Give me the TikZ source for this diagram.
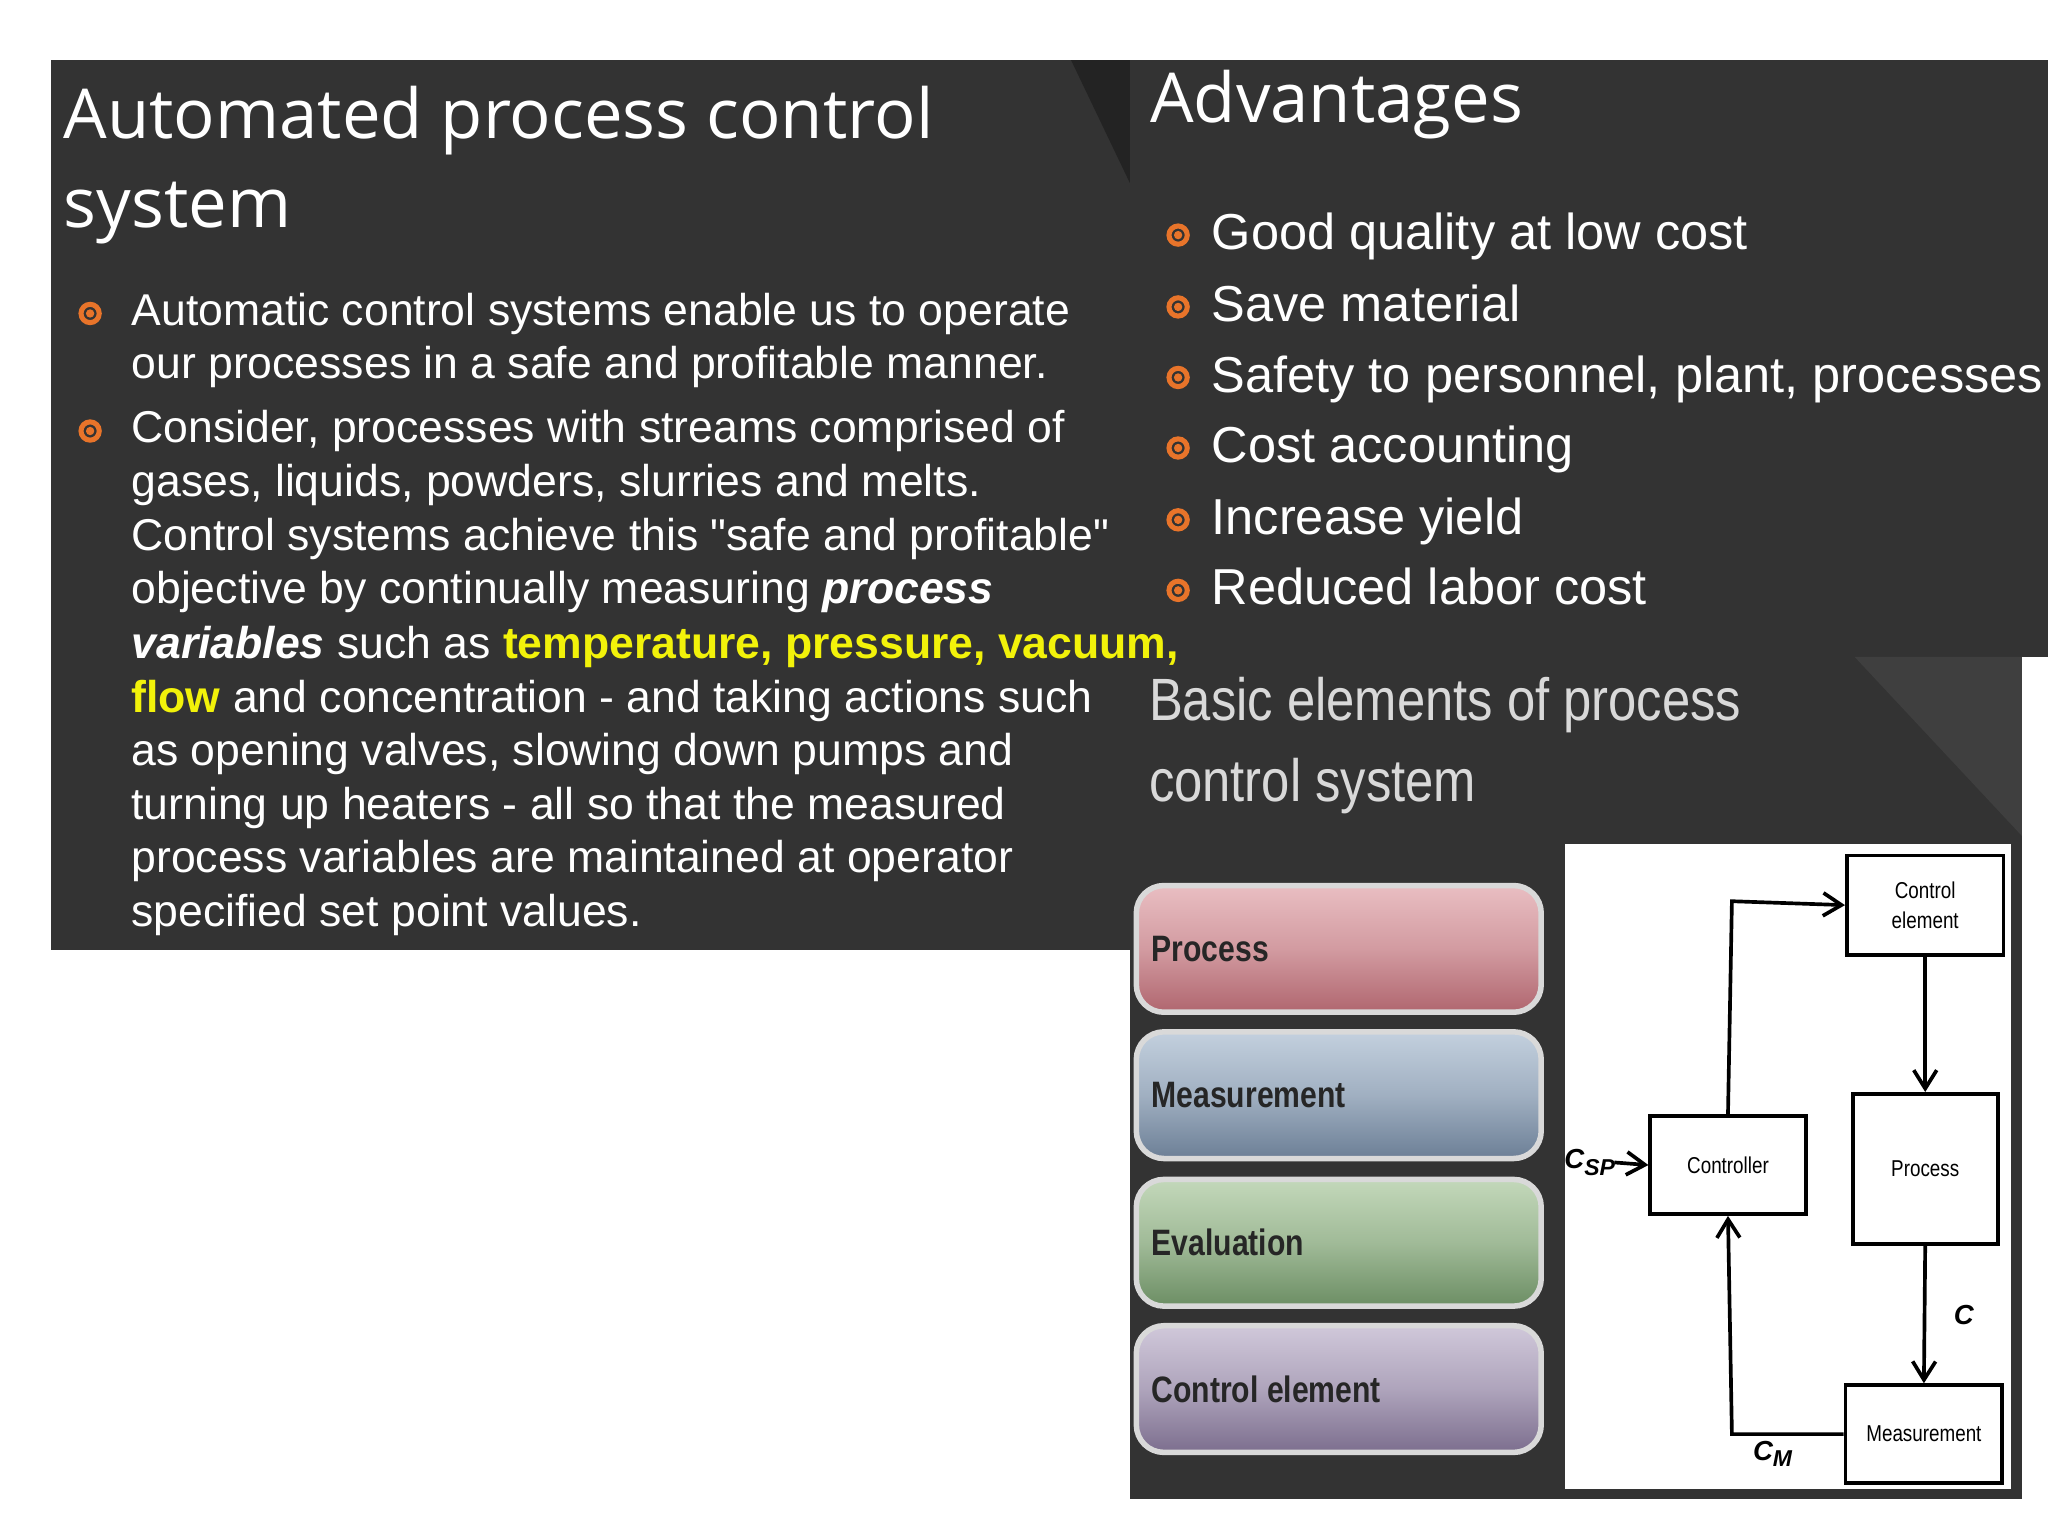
\documentclass[tikz,border=0pt]{standalone}
\usepackage{fontspec}
\setmainfont{Liberation Sans}
\newfontfamily\titlefont{Open Sans}
\usetikzlibrary{arrows.meta,positioning}
\definecolor{panel}{HTML}{333333}
\definecolor{bul}{HTML}{E8742A}
\definecolor{ylw}{HTML}{F2F20A}
\tikzset{
 ln/.style={anchor=west,text=white,inner sep=0pt,text height=1.6ex,text depth=.4ex,font=\fontsize{9.7pt}{12pt}\selectfont},
 adv/.style={ln,font=\fontsize{11pt}{13pt}\selectfont},
 ttl/.style={anchor=west,text=white,inner sep=0pt,font=\titlefont\fontsize{15pt}{18pt}\selectfont},
 btl/.style={anchor=west,text=white!85!black,inner sep=0pt,font=\fontsize{13pt}{16pt}\selectfont},
 gbox/.style={rounded corners=6pt,draw=white!85!black,line width=1.2pt},
 gtext/.style={anchor=west,inner sep=0pt,text=black!85,font=\bfseries\fontsize{8pt}{10pt}\selectfont},
 dbox/.style={draw=black,line width=0.8pt,inner sep=0pt,font=\fontsize{5pt}{6.6pt}\selectfont,align=center},
 arr/.style={-{Straight Barb[length=4pt,width=5pt]},line width=0.8pt},
 lbl/.style={inner sep=0pt,font=\itshape\bfseries\fontsize{6pt}{7pt}\selectfont}
}
\newcommand{\bulletmark}[2]{\draw[bul,line width=1.1pt] (#1,#2) circle (7); \fill[bul] (#1,#2) circle (3.2);}
\newcommand{\narrow}[1]{\scalebox{0.82}[1]{#1}}
\begin{document}
\begin{tikzpicture}[x=0.01cm,y=-0.01cm]
\useasboundingbox (0,0) rectangle (1568,1176);
\fill[white] (0,0) rectangle (1568,1176);
% panels
\fill[panel] (39,46) rectangle (865,727);
\fill[panel] (865,46) rectangle (1568,503);
\fill[panel] (865,503) rectangle (1548,1148);
\fill[black!60!panel,opacity=0.5] (820,46) -- (865,46) -- (865,140) -- cycle;
\fill[white!6!panel] (1420,503) -- (1548,503) -- (1548,640) -- cycle;
% left panel
\node[ttl] (t1) at (48,92) {Automated process control};
\node[ttl] (t2) at (48,163) {system};
\bulletmark{69}{240}
\bulletmark{69}{330}
\node[ln] (l1) at (100,238) {Automatic control systems enable us to operate};
\node[ln] (l2) at (100,279) {our processes in a safe and profitable manner.};
\node[ln] (l3) at (100,328) {Consider, processes with streams comprised of};
\node[ln] (l4) at (100,369) {gases, liquids, powders, slurries and melts.};
\node[ln] (l5) at (100,410) {Control systems achieve this \textquotedbl safe and profitable\textquotedbl};
\node[ln] (l6) at (100,451) {objective by continually measuring \textbf{\textit{process}}};
\node[ln] (l7) at (100,493) {\textbf{\textit{variables}} such as \textcolor{ylw}{\textbf{temperature, pressure, vacuum,}}};
\node[ln] (l8) at (100,534) {\textcolor{ylw}{\textbf{flow}} and concentration - and taking actions such};
\node[ln] (l9) at (100,575) {as opening valves, slowing down pumps and};
\node[ln] (l10) at (100,616) {turning up heaters - all so that the measured};
\node[ln] (l11) at (100,657) {process variables are maintained at operator};
\node[ln] (l12) at (100,698) {specified set point values.};
% advantages
\node[ttl] (t3) at (880,80) {Advantages};
\foreach \yy/\tx [count=\i] in {180/Good quality at low cost,235/Save material,289/{Safety to personnel, plant, processes},343/Cost accounting,398/Increase yield,452/Reduced labor cost}{
 \bulletmark{902}{\yy}
 \node[adv] (a\i) at (927,\yy) {\tx};
}
% basic elements
\node[btl] (t4) at (879,540) {\scalebox{0.85}[1]{Basic elements of process}};
\node[btl] (t5) at (879,602) {\scalebox{0.85}[1]{control system}};
\foreach \ya/\yb/\ct/\cb/\tx [count=\i] in {678/775/E9BEC2/B0666F/Process,790/887/C3D0DE/6C7F96/Measurement,903/1000/C3D8BA/6C8E64/Evaluation,1015/1112/D0C8DA/7C6E8E/Control element}{
 \definecolor{ctop}{HTML}{\ct}\definecolor{cbot}{HTML}{\cb}
 \shade[gbox,top color=ctop,bottom color=cbot,middle color=ctop!60!cbot] (870,\ya) rectangle (1180,\yb);
 \node[gtext] (g\i) at (881,{(\ya+\yb)/2}) {\narrow{\tx}};
}
% block diagram
\fill[white] (1198,646) rectangle (1540,1140);
\node[dbox,minimum width=1.2cm,minimum height=0.76cm] (ce) at (1474,693) {\narrow{Control}\\\narrow{element}};
\node[dbox,minimum width=1.11cm,minimum height=1.15cm] (pr) at (1474,895) {\narrow{Process}};
\node[dbox,minimum width=1.19cm,minimum height=0.75cm] (co) at (1323,892) {\narrow{Controller}};
\node[dbox,minimum width=1.2cm,minimum height=0.75cm] (me) at (1473,1098) {\narrow{Measurement}};
\coordinate (csp) at (1236,890);
\node[lbl] (cspl) at (1218,890) {C\textsubscript{SP}};
\draw[arr] (csp) -- (co.west);
\draw[arr] (co.north) -- (1326,690) -- (ce.west);
\draw[arr] (ce.south) -- (pr.north);
\draw[arr] (pr.south) -- node[lbl,right=6pt] (cl) {C} (me.north);
\draw[arr] (me.west) -- (1326,1098) -- (co.south);
\node[lbl] (cml) at (1358,1113) {C\textsubscript{M}};
\end{tikzpicture}
\end{document}
